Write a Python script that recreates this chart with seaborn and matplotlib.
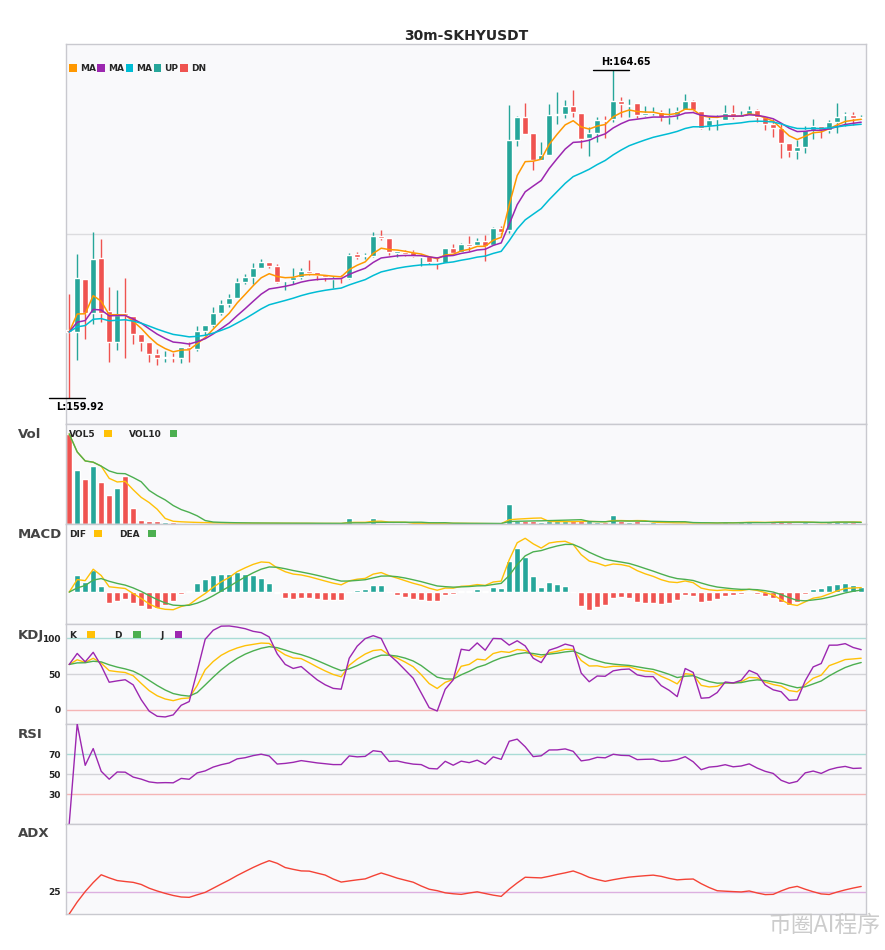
import numpy as np
import pandas as pd
import matplotlib
matplotlib.use('Agg')
import matplotlib.pyplot as plt
from matplotlib.patches import Patch
import seaborn as sns

title = '30m-SKHYUSDT'

opens = [160.90, 160.87, 161.63, 161.14, 161.94, 161.17, 160.73, 161.14, 161.10, 160.84,
         160.72, 160.55, 160.49, 160.50, 160.49, 160.66, 160.62, 160.88, 160.97, 161.15,
         161.27, 161.36, 161.59, 161.67, 161.79, 161.88, 161.82, 161.60, 161.62, 161.67,
         161.75, 161.73, 161.69, 161.64, 161.67, 161.65, 162.00, 161.97, 161.97, 162.26,
         162.23, 162.01, 162.03, 162.02, 161.95, 161.97, 161.88, 161.86, 162.09, 162.02,
         162.14, 162.12, 162.19, 162.13, 162.37, 162.34, 163.64, 163.98, 163.75, 163.35,
         163.42, 164.01, 164.02, 164.13, 164.03, 163.67, 163.74, 163.93, 163.94, 164.21,
         164.14, 164.17, 164.01, 164.03, 164.04, 163.97, 164.00, 164.07, 164.21, 164.06,
         163.84, 163.94, 163.93, 164.03, 163.98, 164.01, 164.08, 163.97, 163.88, 163.82,
         163.60, 163.49, 163.54, 163.79, 163.85, 163.78, 163.90, 164.00, 164.01, 163.96]
highs = [161.42, 162.00, 161.64, 162.31, 162.22, 161.52, 161.48, 161.65, 161.10, 160.84,
         160.72, 160.62, 160.60, 160.57, 160.66, 160.72, 160.95, 160.97, 161.23, 161.33,
         161.42, 161.65, 161.71, 161.86, 161.92, 161.88, 161.85, 161.62, 161.80, 161.79,
         161.91, 161.74, 161.69, 161.68, 161.70, 162.01, 162.02, 162.01, 162.31, 162.34,
         162.23, 162.04, 162.06, 162.05, 161.99, 161.97, 161.96, 162.09, 162.14, 162.15,
         162.26, 162.23, 162.27, 162.39, 162.40, 164.15, 163.99, 164.18, 163.75, 163.62,
         164.16, 164.33, 164.22, 164.37, 164.03, 163.83, 163.97, 163.99, 164.65, 164.26,
         164.23, 164.18, 164.14, 164.12, 164.07, 164.10, 164.12, 164.30, 164.22, 164.06,
         163.97, 164.00, 164.15, 164.15, 164.06, 164.14, 164.09, 163.97, 163.94, 163.88,
         163.60, 163.64, 163.84, 163.94, 163.85, 163.93, 164.18, 164.05, 164.05, 164.00]
lows = [159.92, 160.46, 160.77, 160.99, 161.01, 160.43, 160.61, 160.50, 160.69, 160.60,
        160.43, 160.39, 160.43, 160.43, 160.42, 160.43, 160.60, 160.82, 160.94, 161.12,
        161.23, 161.36, 161.56, 161.56, 161.79, 161.79, 161.58, 161.48, 161.56, 161.64,
        161.70, 161.62, 161.61, 161.51, 161.58, 161.64, 161.93, 161.93, 161.96, 162.20,
        161.98, 161.95, 161.97, 161.96, 161.82, 161.85, 161.78, 161.86, 161.98, 162.02,
        162.04, 162.11, 161.90, 162.13, 162.28, 162.30, 163.55, 163.73, 163.21, 163.35,
        163.42, 163.88, 163.96, 163.97, 163.53, 163.41, 163.62, 163.67, 163.90, 163.97,
        163.98, 163.96, 163.99, 164.01, 163.92, 163.87, 163.95, 164.07, 164.06, 163.80,
        163.79, 163.78, 163.93, 163.95, 163.97, 164.01, 163.90, 163.79, 163.69, 163.38,
        163.39, 163.37, 163.46, 163.66, 163.67, 163.74, 163.75, 163.85, 163.86, 163.94]
closes = [160.87, 161.65, 161.14, 161.92, 161.15, 160.73, 161.12, 161.11, 160.84, 160.72,
          160.55, 160.49, 160.50, 160.49, 160.66, 160.62, 160.88, 160.97, 161.15, 161.27,
          161.36, 161.59, 161.66, 161.79, 161.88, 161.83, 161.59, 161.62, 161.67, 161.75,
          161.72, 161.69, 161.67, 161.65, 161.65, 161.98, 161.96, 161.98, 162.25, 162.23,
          162.02, 162.04, 162.00, 161.97, 161.96, 161.88, 161.87, 162.09, 162.01, 162.14,
          162.11, 162.19, 162.11, 162.37, 162.32, 163.64, 163.98, 163.73, 163.35, 163.42,
          164.01, 164.02, 164.13, 164.04, 163.65, 163.74, 163.93, 163.91, 164.20, 164.16,
          164.15, 164.01, 164.03, 164.04, 163.97, 163.99, 164.06, 164.21, 164.07, 163.82,
          163.93, 163.96, 164.03, 163.97, 164.00, 164.08, 163.97, 163.88, 163.82, 163.60,
          163.49, 163.54, 163.79, 163.85, 163.78, 163.90, 163.97, 164.01, 163.96, 163.97]
volumes = [9000, 5400, 4500, 5800, 4200, 2900, 3600, 4800, 1600, 400,
           300, 270, 200, 200, 130, 130, 130, 100, 100, 80,
           80, 100, 80, 80, 80, 70, 90, 60, 70, 60,
           60, 50, 50, 60, 50, 570, 100, 60, 570, 100,
           120, 60, 50, 60, 80, 70, 60, 100, 70, 50,
           30, 30, 40, 30, 30, 2000, 340, 260, 260, 150,
           260, 260, 260, 260, 260, 260, 150, 150, 900, 260,
           150, 260, 80, 190, 100, 80, 120, 120, 80, 100,
           80, 80, 230, 100, 230, 230, 100, 120, 230, 340,
           150, 120, 150, 100, 100, 230, 340, 150, 150, 80]
date_labels = ['08/28', '08/28', '08/29', '08/29', '08/29', '08/29', '08/30', '08/30', '08/30']

UP = '#26a69a'
DN = '#ef5350'
BG = '#f9f9fb'
EDGE = '#c9c9cf'

df = pd.DataFrame({'open': opens, 'high': highs, 'low': lows, 'close': closes, 'vol': volumes})
n = len(df)
x = np.arange(n)
up = df['close'] >= df['open']
colors = np.where(up, UP, DN)

# moving averages (exponential) and volume averages
for p in (5, 10, 20):
    df[f'ma{p}'] = df['close'].ewm(span=p, adjust=False).mean()
df['vol5'] = df['vol'].rolling(5, min_periods=1).mean()
df['vol10'] = df['vol'].rolling(10, min_periods=1).mean()

# MACD (fast settings)
ema_fast = df['close'].ewm(span=6, adjust=False).mean()
ema_slow = df['close'].ewm(span=13, adjust=False).mean()
df['dif'] = ema_fast - ema_slow
df['dea'] = df['dif'].ewm(span=5, adjust=False).mean()
df['hist'] = 2 * (df['dif'] - df['dea'])

# KDJ
low9 = df['low'].rolling(9, min_periods=1).min()
high9 = df['high'].rolling(9, min_periods=1).max()
rsv = (df['close'] - low9) / (high9 - low9) * 100
df['k'] = rsv.ewm(com=2, adjust=False).mean()
df['d'] = df['k'].ewm(com=2, adjust=False).mean()
df['j'] = 3 * df['k'] - 2 * df['d']

# RSI
delta = df['close'].diff()
gain = delta.clip(lower=0).ewm(alpha=1 / 14).mean()
loss = (-delta.clip(upper=0)).ewm(alpha=1 / 14).mean()
df['rsi'] = (100 - 100 / (1 + gain / loss)).fillna(0)

# ADX
prev_close = df['close'].shift(1)
tr = pd.concat([df['high'] - df['low'], (df['high'] - prev_close).abs(),
                (df['low'] - prev_close).abs()], axis=1).max(axis=1)
up_move = df['high'].diff()
down_move = -df['low'].diff()
plus_dm = pd.Series(np.where((up_move > down_move) & (up_move > 0), up_move, 0.0))
minus_dm = pd.Series(np.where((down_move > up_move) & (down_move > 0), down_move, 0.0))
atr = tr.ewm(span=14, adjust=False).mean()
plus_di = 100 * plus_dm.ewm(span=14, adjust=False).mean() / atr
minus_di = 100 * minus_dm.ewm(span=14, adjust=False).mean() / atr
dx = (100 * (plus_di - minus_di).abs() / (plus_di + minus_di)).fillna(0)
df['adx'] = dx.ewm(span=14, adjust=False).mean()

sns.set_theme(style='white')
plt.rcParams['font.family'] = ['DejaVu Sans']

fig = plt.figure(figsize=(8.85, 9.5), dpi=100)
gs = fig.add_gridspec(6, 1, height_ratios=[380, 100, 100, 100, 100, 90], hspace=0,
                      left=66 / 885, right=866 / 885, top=1 - 44 / 950, bottom=1 - 914 / 950)
ax_main = fig.add_subplot(gs[0])
axes = [ax_main] + [fig.add_subplot(gs[i], sharex=ax_main) for i in range(1, 6)]
ax_main, ax_vol, ax_macd, ax_kdj, ax_rsi, ax_adx = axes

for ax in axes:
    ax.set_facecolor(BG)
    for s in ax.spines.values():
        s.set_color(EDGE)
        s.set_linewidth(1)
    ax.tick_params(length=0)
    ax.set_xlim(-0.4, n - 0.4)
    plt.setp(ax.get_xticklabels(), visible=False)


def small_legend(ax, items, y=0.94, markerfirst=False, colsp=1.9, textpad=0.9):
    handles = [Patch(facecolor=c, edgecolor='none', label=l) for l, c in items]
    leg = ax.legend(handles=handles, loc='upper left', bbox_to_anchor=(0.004, y), ncol=len(items),
                    frameon=False, fontsize=6.5, handlelength=0.85, handleheight=0.85,
                    handletextpad=textpad, columnspacing=colsp, markerfirst=markerfirst,
                    borderpad=0, borderaxespad=0)
    for t in leg.get_texts():
        t.set_fontweight('bold')
    return leg


def panel_label(ax, text):
    ax.text(-0.06, 0.89, text, transform=ax.transAxes, fontsize=9.5, fontweight='bold',
            color='#444444', ha='left', va='center')


# main candles
ax = ax_main
ax.vlines(x, df['low'], df['high'], colors=colors, linewidth=1, zorder=2)
body = (df['close'] - df['open']).abs().clip(lower=0.012)
ax.bar(x, body, bottom=df[['open', 'close']].min(axis=1), width=0.7, color=colors, zorder=3)
sns.lineplot(x=x, y=df['ma5'].values, ax=ax, color='#ff9800', linewidth=1.1, zorder=4)
sns.lineplot(x=x, y=df['ma10'].values, ax=ax, color='#9c27b0', linewidth=1.1, zorder=4)
sns.lineplot(x=x, y=df['ma20'].values, ax=ax, color='#00bcd4', linewidth=1.1, zorder=4)
hi_i, lo_i = int(df['high'].idxmax()), int(df['low'].idxmin())
hi, lo = df['high'].max(), df['low'].min()
pad = (hi - lo) * 0.08
ax.set_ylim(lo - pad, hi + pad)
ax.axhline((lo + hi) / 2, color='#dcdcdf', linewidth=1, zorder=1)
ax.set_yticks([])
ax.plot([hi_i - 2.5, hi_i + 2], [hi, hi], color='black', linewidth=1, clip_on=False, zorder=5)
ax.annotate(f'H:{hi:.2f}', (hi_i - 1.5, hi), xytext=(0, 2.5), textcoords='offset points',
            ha='left', va='bottom', fontsize=7, fontweight='bold', color='black')
ax.plot([lo_i - 2.5, lo_i + 2], [lo, lo], color='black', linewidth=1, clip_on=False, zorder=5)
ax.annotate(f'L:{lo:.2f}', (lo_i - 1.6, lo), xytext=(0, -3), textcoords='offset points',
            ha='left', va='top', fontsize=7, fontweight='bold', color='black',
            annotation_clip=False)
ax.set_title(title, fontsize=10, fontweight='bold', pad=3)
small_legend(ax, [('MA', '#ff9800'), ('MA', '#9c27b0'), ('MA', '#00bcd4'), ('UP', UP), ('DN', DN)],
             y=0.947, markerfirst=True, colsp=0.15, textpad=0.35)

# volume
ax = ax_vol
ax.bar(x, df['vol'], width=0.7, color=colors, zorder=2)
sns.lineplot(x=x, y=df['vol5'].values, ax=ax, color='#ffc107', linewidth=1, zorder=3)
sns.lineplot(x=x, y=df['vol10'].values, ax=ax, color='#4caf50', linewidth=1, zorder=3)
ax.set_ylim(0, df['vol'].max() * 1.11)
ax.set_yticks([])
small_legend(ax, [('VOL5', '#ffc107'), ('VOL10', '#4caf50')])
panel_label(ax, 'Vol')

# MACD
ax = ax_macd
ax.bar(x, df['hist'], width=0.7, color=np.where(df['hist'] >= 0, UP, DN), zorder=2)
sns.lineplot(x=x, y=df['dif'].values, ax=ax, color='#ffc107', linewidth=1, zorder=3)
sns.lineplot(x=x, y=df['dea'].values, ax=ax, color='#4caf50', linewidth=1, zorder=3)
mlo = min(df['hist'].min(), df['dif'].min(), df['dea'].min())
mhi = max(df['hist'].max(), df['dif'].max(), df['dea'].max())
mr = mhi - mlo
ax.set_ylim(mlo - 0.2 * mr, mhi + 0.2 * mr)
ax.set_yticks([])
small_legend(ax, [('DIF', '#ffc107'), ('DEA', '#4caf50')])
panel_label(ax, 'MACD')

# KDJ
ax = ax_kdj
for lvl, c in ((100, '#a9dcd6'), (50, '#d4d4d8'), (0, '#f5b5b5')):
    ax.axhline(lvl, color=c, linewidth=1, zorder=1)
sns.lineplot(x=x, y=df['k'].values, ax=ax, color='#ffc107', linewidth=1, zorder=3)
sns.lineplot(x=x, y=df['d'].values, ax=ax, color='#4caf50', linewidth=1, zorder=3)
sns.lineplot(x=x, y=df['j'].values, ax=ax, color='#9c27b0', linewidth=1, zorder=3)
ax.set_ylim(-20, 120)
ax.set_yticks([0, 50, 100])
small_legend(ax, [('K', '#ffc107'), ('D', '#4caf50'), ('J', '#9c27b0')], y=0.93, colsp=2.2, textpad=1.2)
panel_label(ax, 'KDJ')

# RSI
ax = ax_rsi
for lvl, c in ((70, '#a9dcd6'), (50, '#d4d4d8'), (30, '#f5b5b5')):
    ax.axhline(lvl, color=c, linewidth=1, zorder=1)
sns.lineplot(x=x, y=df['rsi'].values, ax=ax, color='#9c27b0', linewidth=1, zorder=3)
ax.set_ylim(0, 100)
ax.set_yticks([30, 50, 70])
panel_label(ax, 'RSI')

# ADX
ax = ax_adx
ax.axhline(25, color='#dcb0e0', linewidth=1, zorder=1)
sns.lineplot(x=x, y=df['adx'].values, ax=ax, color='#f44336', linewidth=1, zorder=3)
ax.set_ylim(0, 100)
ax.set_yticks([25])
panel_label(ax, 'ADX')
tick_pos = list(range(0, n, 12))
ax.set_xticks(tick_pos)
ax.set_xticklabels(date_labels[:len(tick_pos)])
plt.setp(ax.get_xticklabels(), visible=True, fontsize=6.5, fontweight='bold', color='#555555')
ax.tick_params(axis='x', pad=3)

for ax in axes:
    ax.set_xlabel('')
    ax.set_ylabel('')
    ax.tick_params(axis='y', labelsize=6.5, pad=4, labelcolor='#222222')
    plt.setp(ax.get_yticklabels(), fontweight='bold')

fig.text(0.995, 0.026, '币圈AI程序', fontsize=16.5, color='#c4c4c4', alpha=0.85,
         ha='right', va='center', family=['Noto Sans CJK SC', 'DejaVu Sans'])

fig.savefig('out.png', dpi=100, facecolor='white')
